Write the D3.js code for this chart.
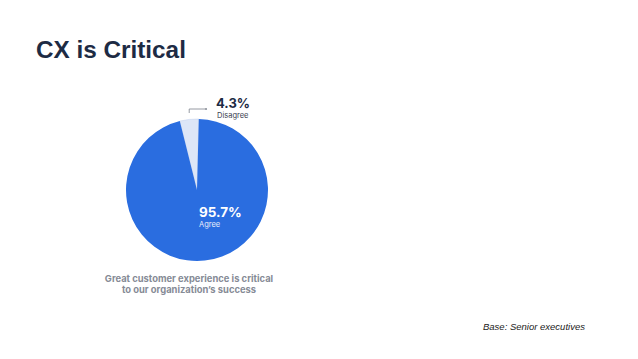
<!DOCTYPE html>
<html><head><meta charset="utf-8">
<script src="https://cdn.jsdelivr.net/npm/d3@7"></script>
<style>html,body{margin:0;padding:0;background:#fff;}svg{display:block;}</style>
</head><body>
<svg id="c" width="638" height="359"></svg>
<script>
const categories = ["Disagree", "Agree"];
const values = [4.3, 95.7];
const valueLabels = ["4.3%", "95.7%"];
const title = "CX is Critical";
const caption = ["Great customer experience is critical", "to our organization\u2019s success"];
const baseNote = "Base: Senior executives";

const svg = d3.select("#c");
const W = 638, H = 359;
svg.append("rect").attr("width", W).attr("height", H).attr("fill", "#fff");

svg.append("text").attr("x", 36).attr("y", 58)
  .attr("font-family", "Liberation Sans, Arial, sans-serif")
  .attr("font-weight", "bold").attr("font-size", 24.3)
  .attr("fill", "#1d2b44").text(title);

const cx = 197, cy = 190, r = 71;
const color = d3.scaleOrdinal().domain(categories).range(["#dde6f7", "#2a6de0"]);
const offset = -0.245;
const pie = d3.pie().sort(null).value(d => d.v)
  .startAngle(offset).endAngle(offset + 2 * Math.PI);
const data = categories.map((c, i) => ({c, v: values[i], l: valueLabels[i]}));
const arcs = pie(data);
const arc = d3.arc().innerRadius(0).outerRadius(r);
const g = svg.append("g").attr("transform", `translate(${cx},${cy})`);
g.selectAll("path").data(arcs).join("path")
  .attr("d", arc).attr("fill", d => color(d.data.c))
  .attr("stroke", d => d.data.c === "Disagree" ? "#c9d5ee" : "none")
  .attr("stroke-width", 0.6);

const ff = "Inter, Roboto, 'Noto Sans', sans-serif";
const dis = arcs[0];
const mid = (dis.startAngle + dis.endAngle) / 2;
const lx = cx + Math.sin(mid) * r;
svg.append("path")
  .attr("d", `M${lx},${cy - r - 6} V${cy - 81} H${cx + 8}`)
  .attr("fill", "none").attr("stroke", "#8a8f99").attr("stroke-width", 0.9);
svg.append("circle").attr("cx", cx + 9).attr("cy", cy - 81).attr("r", 1.1).attr("fill", "#8a8f99");
svg.append("text").attr("x", 216).attr("y", 108)
  .attr("font-family", ff).attr("font-weight", 700).attr("font-size", 13)
  .attr("fill", "#1d2b44").text(dis.data.l);
svg.append("text").attr("x", 217).attr("y", 118)
  .attr("font-family", ff).attr("font-size", 7.5)
  .attr("fill", "#3a4150").text(dis.data.c);

const agr = arcs[1];
svg.append("text").attr("x", 199).attr("y", 217)
  .attr("font-family", ff).attr("font-weight", 700).attr("font-size", 13.5)
  .attr("fill", "#ffffff").text(agr.data.l);
svg.append("text").attr("x", 199).attr("y", 227)
  .attr("font-family", ff).attr("font-size", 7.5)
  .attr("fill", "#e8eefb").text(agr.data.c);

svg.selectAll("text.cap").data(caption).join("text").attr("class", "cap")
  .attr("x", 189).attr("y", (d, i) => 282 + i * 11)
  .attr("text-anchor", "middle")
  .attr("font-family", ff).attr("font-weight", 700).attr("font-size", 9.4)
  .attr("fill", "#868b96").text(d => d);

svg.append("text").attr("x", 483).attr("y", 330)
  .attr("font-family", "Liberation Sans, Arial, sans-serif")
  .attr("font-style", "italic").attr("font-size", 9.5)
  .attr("fill", "#222").text(baseNote);
</script>
</body></html>
